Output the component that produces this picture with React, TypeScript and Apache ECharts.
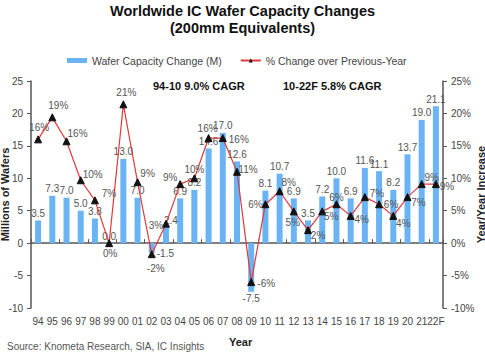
import React, { useEffect, useRef } from "react";
import * as echarts from "echarts";

const categories = ["94","95","96","97","98","99","00","01","02","03","04","05","06","07","08","09","10","11","12","13","14","15","16","17","18","19","20","21","22F"];
const capacityChange = [3.5,7.3,7.0,5.0,3.8,0.0,13.0,7.0,-1.5,2.4,6.9,8.2,14.6,17.0,12.6,-7.5,8.1,10.7,6.9,3.5,7.2,10.0,6.9,11.6,11.1,8.2,13.7,19.0,21.1];
const pctChange = [16.0,19.4,15.7,9.7,6.6,0.0,21.4,9.4,-1.7,3.0,9.1,10.0,16.2,16.2,11.0,-6.0,6.0,8.0,4.9,2.0,4.9,6.0,4.2,7.1,6.0,4.2,7.1,9.1,9.1];
const leftTicks = [-10, 25, 5];
const rightTicks = [-10, 25, 5];

// label placement offsets (style only), relative to "top" position
const pctLabelOffset: number[][] = [
  [1,0],[6,0],[11,4.5],[12,6.5],[14,5.5],[1,22.5],[3,0],[10,3.5],[4,26.5],[-10,13.5],
  [-10,5.5],[0,3.5],[-1,2.5],[16,13.5],[11,9.5],[15,13.5],[-10,12.5],[9,3.5],[-1,23.5],[10,17.5],
  [9,17.5],[0,5.5],[11,15.5],[12,8.5],[12,12.5],[10,19.5],[11,17.5],[10,5.5],[11,14.5],
];
const barLabelStyle = capacityChange.map((v, i) =>
  i === 8 ? { position: "right", offset: [0, 5] } : i === 9 ? { position: "top", offset: [5, 0] } : { position: v < 0 ? "bottom" : "top" }
);

const FONT = "Liberation Sans, Arial, sans-serif";

export default function App() {
  const ref = useRef<HTMLDivElement>(null);
  useEffect(() => {
    if (!ref.current) return;
    const chart = echarts.init(ref.current, null, { renderer: "svg" });
    chart.setOption({
      animation: false,
      textStyle: { fontFamily: FONT },
      title: {
        text: "Worldwide IC Wafer Capacity Changes\n(200mm Equivalents)",
        left: "center",
        top: -3,
        textStyle: { fontSize: 14.5, fontWeight: "bold", color: "#111", lineHeight: 17, fontFamily: FONT },
      },
      legend: {
        top: 50,
        left: 62,
        itemGap: 18,
        itemWidth: 20,
        itemHeight: 5,
        textStyle: { fontSize: 10.5, color: "#444", fontFamily: FONT },
        data: [
          { name: "Wafer Capacity Change (M)", icon: "rect" },
          { name: "% Change over Previous-Year" },
        ],
      },
      grid: { left: 31, right: 42, top: 81, bottom: 56, outerBoundsMode: "none", containLabel: false },
      xAxis: [
        {
          type: "category",
          data: categories,
          position: "bottom",
          axisLine: { show: false, onZero: false },
          axisTick: { show: false },
          axisLabel: { color: "#444", fontSize: 10, margin: 8, interval: 0, fontFamily: FONT },
        },
        {
          type: "category",
          data: categories,
          position: "bottom",
          axisLine: { show: true, onZero: true, lineStyle: { color: "#555", width: 1.5 } },
          axisTick: { show: true, inside: true, length: 4, lineStyle: { color: "#555" } },
          axisLabel: { show: false },
        },
      ],
      yAxis: [
        {
          type: "value",
          min: leftTicks[0],
          max: leftTicks[1],
          interval: leftTicks[2],
          name: "Millions of Wafers",
          nameLocation: "middle",
          nameGap: 21,
          nameRotate: 90,
          nameMoveOverlap: false,
          nameTextStyle: { fontSize: 11, fontWeight: "bold", color: "#222", fontFamily: FONT },
          axisLine: { show: true, lineStyle: { color: "#555", width: 1.5 } },
          axisTick: { show: true, length: 4, lineStyle: { color: "#555" } },
          axisLabel: { color: "#444", fontSize: 10, margin: 8, fontFamily: FONT },
          splitLine: { show: false },
        },
        {
          type: "value",
          min: rightTicks[0],
          max: rightTicks[1],
          interval: rightTicks[2],
          name: "Year/Year Increase",
          nameLocation: "middle",
          nameGap: 32,
          nameRotate: 90,
          nameMoveOverlap: false,
          nameTextStyle: { fontSize: 11, fontWeight: "bold", color: "#222", fontFamily: FONT },
          axisLine: { show: true, lineStyle: { color: "#555", width: 1.5 } },
          axisTick: { show: true, length: 4, lineStyle: { color: "#555" } },
          axisLabel: { color: "#444", fontSize: 10, margin: 8, formatter: "{value}%", fontFamily: FONT },
          splitLine: { show: false },
        },
      ],
      series: [
        {
          name: "Wafer Capacity Change (M)",
          type: "bar",
          xAxisIndex: 0,
          yAxisIndex: 0,
          barWidth: 6,
          itemStyle: { color: "#6AB4F5" },
          data: capacityChange.map((v, i) => ({
            value: v,
            label: barLabelStyle[i],
          })),
          label: {
            show: true,
            color: "#555",
            fontSize: 10,
            distance: 2,
            fontFamily: FONT,
            formatter: (p: any) => Number(p.value).toFixed(1),
          },
          z: 2,
        },
        {
          name: "% Change over Previous-Year",
          type: "line",
          xAxisIndex: 0,
          yAxisIndex: 1,
          symbol: "triangle",
          symbolSize: 7,
          lineStyle: { color: "#E03A3A", width: 1.2 },
          itemStyle: { color: "#111", borderColor: "#111" },
          data: pctChange.map((v, i) => ({
            value: v,
            label: { position: "top", offset: pctLabelOffset[i] },
          })),
          label: {
            show: true,
            color: "#555",
            fontSize: 10,
            distance: 3,
            fontFamily: FONT,
            formatter: (p: any) => Math.round(Number(p.value)) + "%",
          },
          z: 3,
        },
      ],
      graphic: [
        {
          type: "text",
          left: 153,
          top: 80,
          style: { text: "94-10 9.0% CAGR", fontSize: 11, fontWeight: "bold", fill: "#111", fontFamily: FONT },
        },
        {
          type: "text",
          left: 283,
          top: 80,
          style: { text: "10-22F 5.8% CAGR", fontSize: 11, fontWeight: "bold", fill: "#111", fontFamily: FONT },
        },
        {
          type: "text",
          left: 229,
          top: 336,
          style: { text: "Year", fontSize: 11, fontWeight: "bold", fill: "#222", fontFamily: FONT },
        },
        {
          type: "text",
          left: 7,
          top: 341,
          style: { text: "Source: Knometa Research, SIA, IC Insights", fontSize: 10, fill: "#555", fontFamily: FONT },
        },
      ],
    });
    return () => chart.dispose();
  }, []);
  return <div ref={ref} style={{ width: 485, height: 364, position: "absolute", left: 0, top: 0 }} />;
}
